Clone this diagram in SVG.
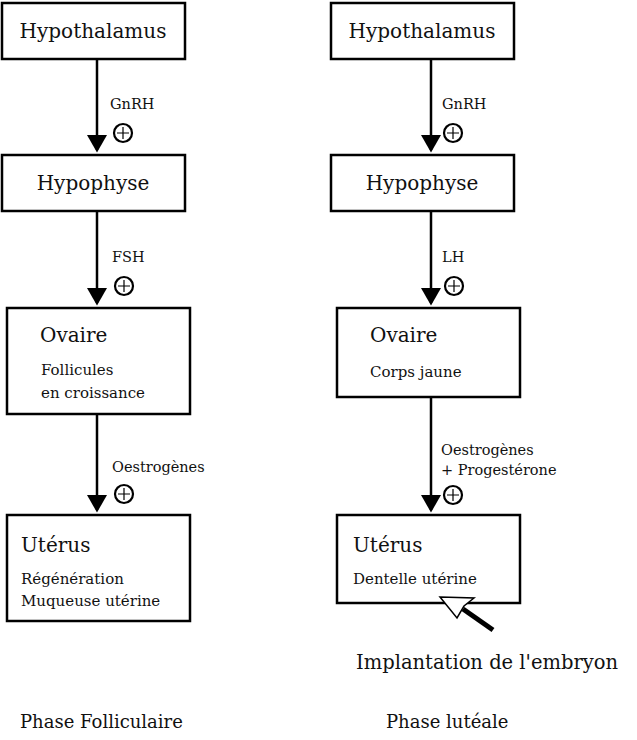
<svg xmlns="http://www.w3.org/2000/svg" width="637" height="740" viewBox="0 0 637 740">
<style>
.box{fill:#fff;stroke:#000;stroke-width:2.5}
text{font-family:'DejaVu Serif','Liberation Serif',serif;fill:#111}
.t{font-size:20px}
.s{font-size:15px}
.l{font-size:14.5px}
.c{fill:#fff;stroke:#000;stroke-width:2.2}
.conn line{stroke:#000;stroke-width:2.5}
</style>
<defs>
<marker id="ah" markerWidth="8" markerHeight="8" refX="6" refY="4" orient="auto" markerUnits="strokeWidth"><path d="M0,0 L7,4 L0,8 Z" fill="#000"/></marker>
<g id="plus"><circle class="c" r="9"/><path d="M-6,0H6M0,-6V6" stroke="#000" stroke-width="1.2"/></g>
</defs>
<rect width="637" height="740" fill="#fff"/>
<g class="conn">
<line x1="97" y1="59" x2="97" y2="150" marker-end="url(#ah)"/>
<line x1="97" y1="211" x2="97" y2="303" marker-end="url(#ah)"/>
<line x1="97" y1="414" x2="97" y2="510" marker-end="url(#ah)"/>
<line x1="431" y1="59" x2="431" y2="150" marker-end="url(#ah)"/>
<line x1="431" y1="211" x2="431" y2="303" marker-end="url(#ah)"/>
<line x1="431" y1="397" x2="431" y2="510" marker-end="url(#ah)"/>
</g>
<g id="labels">
<text class="l" x="110" y="109">GnRH</text><use href="#plus" x="123" y="133"/>
<text class="l" x="112" y="262">FSH</text><use href="#plus" x="124" y="286"/>
<text class="l" x="112" y="472">Oestrogènes</text><use href="#plus" x="124" y="494"/>
<text class="l" x="442" y="109">GnRH</text><use href="#plus" x="453" y="133"/>
<text class="l" x="442" y="262">LH</text><use href="#plus" x="454" y="286"/>
<text class="l" x="441" y="455">Oestrogènes</text>
<text class="l" x="441" y="475">+ Progestérone</text><use href="#plus" x="453" y="495"/>
</g>
<g id="hypo-l"><rect class="box" x="2" y="3" width="183" height="56"/><text class="t" x="93" y="38" text-anchor="middle">Hypothalamus</text></g>
<g id="hyph-l"><rect class="box" x="2" y="155" width="183" height="56"/><text class="t" x="93" y="190" text-anchor="middle">Hypophyse</text></g>
<g id="ov-l"><rect class="box" x="7" y="308" width="183" height="106"/><text class="t" x="40" y="342">Ovaire</text><text class="s" x="41" y="375">Follicules</text><text class="s" x="41" y="398">en croissance</text></g>
<g id="ut-l"><rect class="box" x="7" y="515" width="183" height="106"/><text class="t" x="21" y="552">Utérus</text><text class="s" x="21" y="584">Régénération</text><text class="s" x="21" y="606">Muqueuse utérine</text></g>
<g id="hypo-r"><rect class="box" x="331" y="3" width="183" height="56"/><text class="t" x="422" y="38" text-anchor="middle">Hypothalamus</text></g>
<g id="hyph-r"><rect class="box" x="331" y="155" width="183" height="56"/><text class="t" x="422" y="190" text-anchor="middle">Hypophyse</text></g>
<g id="ov-r"><rect class="box" x="337" y="308" width="183" height="89"/><text class="t" x="370" y="342">Ovaire</text><text class="s" x="370" y="377">Corps jaune</text></g>
<g id="ut-r"><rect class="box" x="337" y="515" width="183" height="88"/><text class="t" x="353" y="552">Utérus</text><text class="s" x="353" y="584">Dentelle utérine</text></g>
<g id="pointer">
<line x1="493" y1="630" x2="463" y2="609" stroke="#000" stroke-width="5"/>
<path d="M440,597 L474,598 L464,606 L457,618 Z" fill="#fff" stroke="#000" stroke-width="1.5"/>
</g>
<text class="t" x="356" y="669" style="font-size:19.5px">Implantation de l'embryon</text>
<text class="t" x="20" y="728" style="font-size:18px">Phase Folliculaire</text>
<text class="t" x="386" y="728" style="font-size:18px">Phase lutéale</text>
</svg>
